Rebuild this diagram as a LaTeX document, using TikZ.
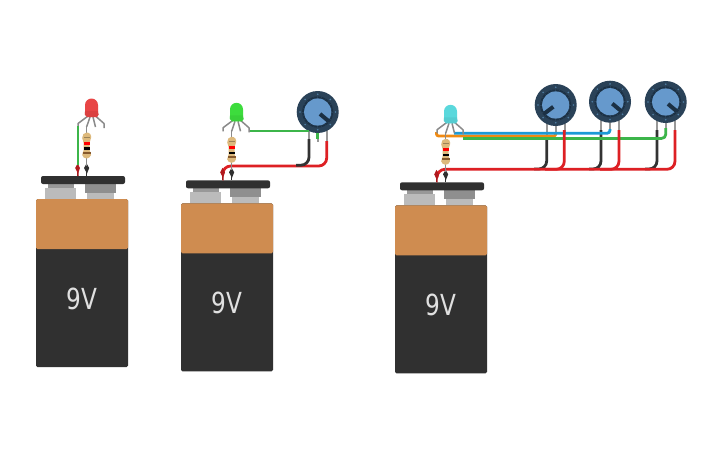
\documentclass[tikz,border=0pt]{standalone}
\usepackage{fontspec}
\setmainfont{DejaVu Sans}
\definecolor{batdark}{HTML}{303030}
\definecolor{batorange}{HTML}{CF8C50}
\definecolor{termlight}{HTML}{BBBBBB}
\definecolor{termmid}{HTML}{989898}
\definecolor{termdark}{HTML}{8F8F8F}
\definecolor{legcol}{HTML}{8A8A8A}
\definecolor{wred}{HTML}{DD2024}
\definecolor{wgreen}{HTML}{3CB54A}
\definecolor{wblue}{HTML}{1C9AD6}
\definecolor{worange}{HTML}{F08A12}
\definecolor{wblack}{HTML}{333333}
\definecolor{potdark}{HTML}{2A4258}
\definecolor{potring}{HTML}{1B3044}
\definecolor{potblue}{HTML}{6699CC}
\definecolor{potdot}{HTML}{4F7FA5}
\definecolor{restan}{HTML}{DDB97C}
\definecolor{ledred}{HTML}{E84545}
\definecolor{ledgreen}{HTML}{3DDC3D}
\definecolor{ledcyan}{HTML}{5AD8DC}
\tikzset{
  x=1pt,y=-1pt,
  wire/.style={line width=2.8pt,line join=round,rounded corners=8pt},
  sharpwire/.style={line width=2.8pt,line join=round,rounded corners=2pt},
  leg/.style={draw=legcol,line width=1.5pt,line join=round},
  termleg/.style={draw=termmid,line width=2pt},
}
\newcommand{\cellgroup}[4]{%
\begin{scope}[shift={(#1,#2)}]
  \fill[batdark,rounded corners=1.5pt] (36,199) rectangle (128,367);
  \fill[batorange,rounded corners=1.5pt] (36,199) rectangle (128,249);
  \fill[termlight] (45,188) rectangle (76,199);
  \fill[termmid] (47.5,184) rectangle (74,188);
  \fill[termlight] (87,193) rectangle (114,199);
  \fill[termdark] (85,184) rectangle (116,193);
  \fill[batdark,rounded corners=2pt] (41,176) rectangle (125,184);
  \node[text=white!88!black,font=\fontsize{29}{29}\selectfont,xscale=.8] (#4) at (82,299) {9V};
  % clips
  \draw[wred!75!black,line width=1.5pt] (77.6,165) -- (78,176);
  \fill[wred!80!black] (77.6,163.5) -- (80,168) -- (78,173.5) -- (75.2,168) -- cycle;
  \draw[batdark,line width=1.5pt] (86.6,165) -- (86.6,176);
  \fill[batdark] (86.6,163.5) -- (89.2,168) -- (87,173.5) -- (84,168) -- cycle;
  % LED legs
  \draw[leg] (88,116) -- (78,123.5) -- (78,127);
  \draw[leg] (90,117) -- (86.6,127);
  \draw[leg] (93,117) -- (95.5,127);
  \draw[leg] (95.5,116) -- (104,123.5) -- (104,128);
  % resistor
  \draw[draw=legcol,line width=1.5pt] (86.6,127) -- (86.6,166);
  \fill[restan] (86.6,132.5) .. controls (90,132.5) and (91.5,135) .. (91,138)
     .. controls (90.5,140) and (89.5,141) .. (89.5,143) -- (89.5,150)
     .. controls (89.5,152) and (91.5,153) .. (91,155)
     .. controls (90.5,157) and (88.5,158.5) .. (86.6,158.5)
     .. controls (84.5,158.5) and (82.5,157) .. (82.2,155)
     .. controls (82,153) and (83.7,152) .. (83.7,150) -- (83.7,143)
     .. controls (83.7,141) and (82.5,140) .. (82.2,138)
     .. controls (82,135) and (84,132.5) .. (86.6,132.5) -- cycle;
  \fill[restan!70!black] (84,136.7) rectangle (89.5,137.7);
  \fill[red] (83.7,141.7) rectangle (89.5,144.5);
  \fill[black] (83.7,147.3) rectangle (89.5,150);
  \fill[brown!70!black] (82.5,151.7) rectangle (90.5,154);
  % LED body
  \fill[#3] (85,105) arc[start angle=180,end angle=360,radius=6.5] -- (98,112)
     .. controls (99,113) and (99,116.5) .. (97,117) -- (87,117)
     .. controls (84.5,116.5) and (84.5,113) .. (85,112) -- cycle;
  \fill[#3!85!black,opacity=.35] (85,111) -- (98,111) .. controls (99,113) and (99,116.5) .. (97,117) -- (87,117) .. controls (84.5,116.5) and (84.5,113) .. (85,111) -- cycle;
\end{scope}}
\newcommand{\potmeter}[3]{%
\begin{scope}[shift={(#1,#2)}]
  \draw[termleg] (-9,18) -- (-9,30);
  \draw[termleg] (0,18) -- (0,30);
  \draw[termleg] (9,18) -- (9,30);
  \fill[potdark] (0,0) circle[radius=21];
  \foreach \a in {0,45,...,315}{\fill[potdot] (\a:17.8) circle[radius=.9];}
  \fill[potring] (0,0) circle[radius=15.6];
  \foreach \a in {0,15,...,345}{\draw[potdark,line width=.6pt] (\a:14) -- (\a:15.6);}
  \fill[potblue] (0,0) circle[radius=13.6];
  \draw[potring,line width=4pt] (#3:3) -- (#3:14);
\end{scope}}
\begin{document}
\begin{tikzpicture}
\useasboundingbox (0,0) rectangle (725,453);
\fill[white] (0,0) rectangle (725,453);
% group 1
\cellgroup{0}{0}{ledred}{labelA}
\draw[wgreen,line width=2.6pt] (78,126) -- (78,165);
% group 2
\potmeter{317.7}{112}{40}
\draw[wgreen,line width=2.8pt] (249,131) -- (309,131);
\draw[wgreen,line width=2.8pt] (317.7,133) -- (317.7,139);
\draw[wire,wred] (222.7,173) -- (222.7,166) -- (326.7,166) -- (326.7,141);
\draw[wire,wblack] (296,165.2) -- (309,165.2) -- (309,139);
\cellgroup{145}{4.3}{ledgreen}{labelB}
% group 3
\potmeter{555.7}{105}{143}
\potmeter{610}{101.7}{40}
\potmeter{665.7}{102}{40}
\draw[wire,wblack] (534,169) -- (546.7,169) -- (546.7,135);
\draw[wire,wblack] (589,169) -- (601,169) -- (601,130);
\draw[wire,wblack] (645,169) -- (657,169) -- (657,130);
\draw[sharpwire,worange] (436.5,132) -- (436.5,136) -- (555.7,136) -- (555.7,132);
\draw[sharpwire,wgreen,rounded corners=4pt] (463,138.4) -- (665.7,138.4) -- (665.7,128);
\draw[sharpwire,wblue,rounded corners=3pt] (454,133.3) -- (610,133.3) -- (610,129);
\draw[wire,wred] (437,175) -- (437,169.3) -- (675,169.3) -- (675,130);
\draw[wire,wred] (545,169.3) -- (564.3,169.3) -- (564.3,130);
\draw[wire,wred] (600,169.3) -- (619,169.3) -- (619,130);
\cellgroup{359}{6.3}{ledcyan}{labelC}
\end{tikzpicture}
\end{document}
